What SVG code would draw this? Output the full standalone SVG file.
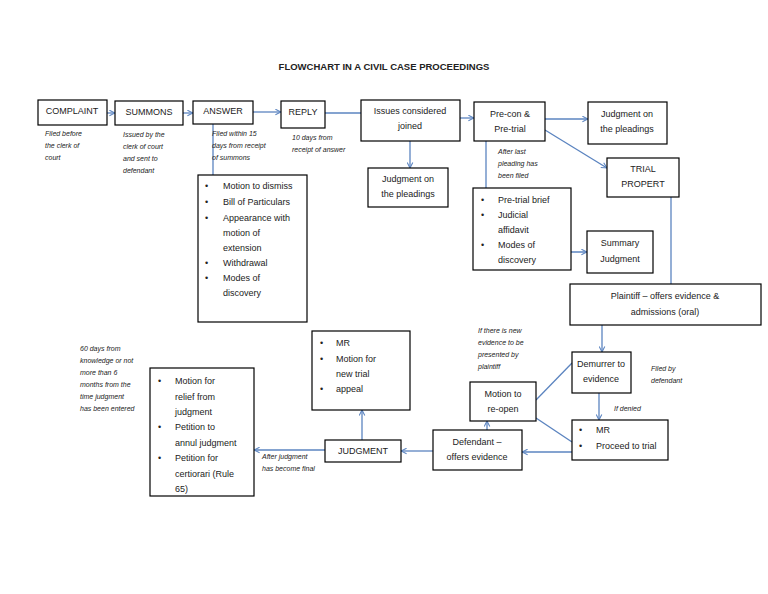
<svg xmlns="http://www.w3.org/2000/svg" width="768" height="594" viewBox="0 0 768 594">
<style>
.b{fill:#fff;stroke:#000;stroke-width:1.2}
text{font-family:"Liberation Sans",Arial,sans-serif;font-size:9px;fill:#222}
.n{font-size:7px;font-style:italic}
.c{text-anchor:middle}
.t{font-weight:bold;font-size:9.5px}
.l{stroke:#5b84c0;stroke-width:1.3;fill:none}
.a{marker-end:url(#ar)}
</style>
<defs><marker id="ar" viewBox="0 0 10 10" refX="9" refY="5" markerWidth="7" markerHeight="7" orient="auto" markerUnits="userSpaceOnUse"><path d="M1,1 L9,5 L1,9" fill="none" stroke="#5b84c0" stroke-width="1.5"/></marker></defs>
<rect width="768" height="594" fill="#fff"/>
<text x="384" y="70" class="c t">FLOWCHART IN A CIVIL CASE PROCEEDINGS</text>
<g id="connectors">
<path class="l a" d="M107,113 H115"/>
<path class="l a" d="M183,113 H193"/>
<path class="l a" d="M253,112 H281"/>
<path class="l" d="M325,113 H361"/>
<path class="l a" d="M460,118 H474"/>
<path class="l a" d="M410,141 V168"/>
<path class="l" d="M213,124 V175"/>
<path class="l a" d="M545,119 H588"/>
<path class="l a" d="M545,130 L607,168"/>
<path class="l" d="M486,141 V188"/>
<path class="l a" d="M545,252 H587"/>
<path class="l" d="M671,197 V284"/>
<path class="l a" d="M602,325 V352"/>
<path class="l a" d="M599,393 V420"/>
<path class="l" d="M572,363 L536,400"/>
<path class="l" d="M536,418 L572,442"/>
<path class="l a" d="M572,452 H522"/>
<path class="l a" d="M487,430 V421"/>
<path class="l a" d="M433,451 H401"/>
<path class="l a" d="M362,440 V410"/>
<path class="l a" d="M325,450 H254"/>
</g>
<g id="complaint"><rect class="b" x="38" y="100" width="69" height="25"/><text x="72" y="114" class="c">COMPLAINT</text></g>
<g id="summons"><rect class="b" x="115" y="101" width="68" height="24"/><text x="149" y="115" class="c">SUMMONS</text></g>
<g id="answer"><rect class="b" x="193" y="101" width="60" height="23"/><text x="223" y="114" class="c">ANSWER</text></g>
<g id="reply"><rect class="b" x="281" y="101" width="44" height="27"/><text x="303" y="115" class="c">REPLY</text></g>
<g id="issues"><rect class="b" x="361" y="100" width="99" height="41"/><text x="410" y="114" class="c">Issues considered</text><text x="410" y="129" class="c">joined</text></g>
<g id="jop1"><rect class="b" x="368" y="168" width="80" height="39"/><text x="408" y="182" class="c">Judgment on</text><text x="408" y="197" class="c">the pleadings</text></g>
<g id="precon"><rect class="b" x="474" y="102" width="71" height="39"/><text x="510" y="117" class="c">Pre-con &amp;</text><text x="510" y="132" class="c">Pre-trial</text></g>
<g id="jop2"><rect class="b" x="588" y="102" width="79" height="42"/><text x="627" y="117" class="c">Judgment on</text><text x="627" y="132" class="c">the pleadings</text></g>
<g id="trial"><rect class="b" x="607" y="158" width="72" height="39"/><text x="643" y="172" class="c">TRIAL</text><text x="643" y="187" class="c">PROPERT</text></g>
<g id="answerlist"><rect class="b" x="198" y="175" width="109" height="147"/>
<text x="205" y="189">•</text><text x="223" y="189">Motion to dismiss</text>
<text x="205" y="205">•</text><text x="223" y="205">Bill of Particulars</text>
<text x="205" y="221">•</text><text x="223" y="221">Appearance with</text><text x="223" y="236">motion of</text><text x="223" y="251">extension</text>
<text x="205" y="266">•</text><text x="223" y="266">Withdrawal</text>
<text x="205" y="281">•</text><text x="223" y="281">Modes of</text><text x="223" y="296">discovery</text></g>
<g id="pretriallist"><rect class="b" x="473" y="188" width="98" height="82"/>
<text x="481" y="203">•</text><text x="498" y="203">Pre-trial brief</text>
<text x="481" y="218">•</text><text x="498" y="218">Judicial</text><text x="498" y="233">affidavit</text>
<text x="481" y="248">•</text><text x="498" y="248">Modes of</text><text x="498" y="263">discovery</text></g>
<g id="summary"><rect class="b" x="587" y="231" width="66" height="42"/><text x="620" y="246" class="c">Summary</text><text x="620" y="262" class="c">Judgment</text></g>
<g id="plaintiff"><rect class="b" x="570" y="284" width="191" height="41"/><text x="665" y="299" class="c">Plaintiff – offers evidence &amp;</text><text x="665" y="315" class="c">admissions (oral)</text></g>
<g id="demurrer"><rect class="b" x="572" y="352" width="59" height="41"/><text x="601" y="367" class="c">Demurrer to</text><text x="601" y="382" class="c">evidence</text></g>
<g id="mrproceed"><rect class="b" x="572" y="420" width="96" height="40"/><text x="579" y="433">•</text><text x="596" y="433">MR</text><text x="579" y="449">•</text><text x="596" y="449">Proceed to trial</text></g>
<g id="reopen"><rect class="b" x="470" y="382" width="66" height="39"/><text x="503" y="397" class="c">Motion to</text><text x="503" y="412" class="c">re-open</text></g>
<g id="defendant"><rect class="b" x="433" y="430" width="89" height="40"/><text x="477" y="445" class="c">Defendant –</text><text x="477" y="460" class="c">offers evidence</text></g>
<g id="judgment"><rect class="b" x="325" y="440" width="76" height="22"/><text x="363" y="454" class="c">JUDGMENT</text></g>
<g id="mrlist"><rect class="b" x="312" y="331" width="98" height="79"/>
<text x="320" y="346">•</text><text x="336" y="346">MR</text>
<text x="320" y="362">•</text><text x="336" y="362">Motion for</text><text x="336" y="377">new trial</text>
<text x="320" y="392">•</text><text x="336" y="392">appeal</text></g>
<g id="relief"><rect class="b" x="150" y="368" width="104" height="128"/>
<text x="158" y="384">•</text><text x="175" y="384">Motion for</text><text x="175" y="400">relief from</text><text x="175" y="415">judgment</text>
<text x="158" y="430">•</text><text x="175" y="430">Petition to</text><text x="175" y="446">annul judgment</text>
<text x="158" y="461">•</text><text x="175" y="461">Petition for</text><text x="175" y="477">certiorari (Rule</text><text x="175" y="492">65)</text></g>
<g id="notes">
<text class="n" x="45" y="136">Filed before</text><text class="n" x="45" y="148">the clerk of</text><text class="n" x="45" y="160">court</text>
<text class="n" x="123" y="137">Issued by the</text><text class="n" x="123" y="149">clerk of court</text><text class="n" x="123" y="161">and sent to</text><text class="n" x="123" y="173">defendant</text>
<text class="n" x="212" y="136">Filed within 15</text><text class="n" x="212" y="148">days from receipt</text><text class="n" x="212" y="160">of summons</text>
<text class="n" x="292" y="140">10 days from</text><text class="n" x="292" y="152">receipt of answer</text>
<text class="n" x="498" y="154">After last</text><text class="n" x="498" y="166">pleading has</text><text class="n" x="498" y="178">been filed</text>
<text class="n" x="80" y="351">60 days from</text><text class="n" x="80" y="363">knowledge or not</text><text class="n" x="80" y="375">more than 6</text><text class="n" x="80" y="387">months from the</text><text class="n" x="80" y="399">time judgment</text><text class="n" x="80" y="411">has been entered</text>
<text class="n" x="262" y="459">After judgment</text><text class="n" x="262" y="471">has become final</text>
<text class="n" x="478" y="333">If there is new</text><text class="n" x="478" y="345">evidence to be</text><text class="n" x="478" y="357">presented by</text><text class="n" x="478" y="369">plaintiff</text>
<text class="n" x="651" y="371">Filed by</text><text class="n" x="651" y="383">defendant</text>
<text class="n" x="614" y="411">If denied</text>
</g>
</svg>
